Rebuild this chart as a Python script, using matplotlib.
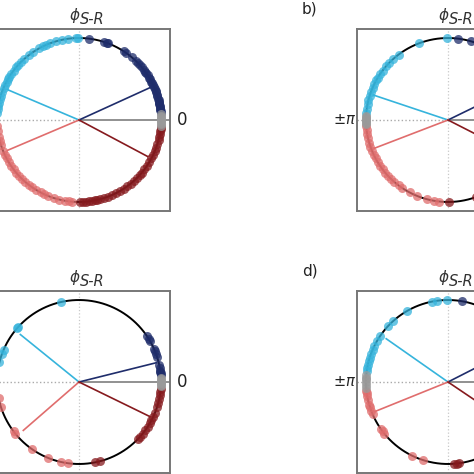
import numpy as np
import matplotlib.pyplot as plt

# colours per quadrant
C_NAVY = '#1f2d6b'
C_CYAN = '#36b4dc'
C_SALMON = '#e06d6d'
C_DRED = '#861a1e'
C_GRAY = '#9a9a9a'

# phase angles (deg), grouped by quadrant
a_navy = [83, 72, 70, 69, 57, 55, 50, 46, 44, 42, 40, 38, 36, 35, 33, 31, 30, 28, 27,
          25, 24, 22, 21, 20, 18, 17, 15, 14, 13, 12, 11, 10, 9, 8, 7, 6, 5]
a_cyan = [91, 92, 98, 102, 106, 111, 114, 116, 119, 124, 128, 132, 135, 138, 140, 143,
          146, 148, 150, 152, 155, 157, 160, 163, 165, 168, 170, 172, 175]
a_salmon = [-176, -172, -168, -165, -162, -158, -155, -152, -149, -146, -143, -140, -137,
            -134, -131, -128, -125, -122, -118, -115, -112, -108, -104, -100, -97, -95]
a_dred = [-89, -87, -85, -83, -81, -79, -77, -75, -72, -69, -66, -63, -60, -57, -54, -51,
          -48, -45, -42, -40, -37, -34, -31, -28, -25, -22, -20, -17, -14, -12, -10, -8, -6, -5]
a_gray = [-4, -3, -2, -1, 0, 1, 2, 3, 4]

b_navy = [83, 74, 66, 55, 40, 25]
b_cyan = [90.5, 111, 127, 132, 136, 139, 143, 146, 149, 151, 154, 157, 160, 163, 166, 169, 172, 175]
b_salmon = [-176, -173, -170, -167, -164, -161, -158, -155, -152, -149, -146, -143, -140,
            -137, -134, -131, -127, -124, -118, -112, -105, -100, -96]
b_dred = [-89, -70, -50, -30]
b_gray = [177, 178, 179, 180, -179, -178, -177]

c_navy = [34, 32, 30, 24, 22, 20, 18, 12, 10, 8, 7, 6, 5]
c_cyan = [103, 138, 139, 157, 160, 166]
c_salmon = [-97.5, -103, -112, -125, -141, -143, -162, -169]
c_dred = [-5, -7, -9, -12, -15, -18, -22, -25, -28, -30, -33, -36, -39, -42, -44, -75, -79]
c_gray = [-3, -2, -1, 0, 1, 2, 3]

d_navy = [80, 60, 40, 25, 10]
d_cyan = [91, 98, 101, 120, 132, 137, 146, 150, 154, 157, 160, 163, 165, 168, 170, 172]
d_salmon = [-174, -172, -170, -167, -164, -162, -159, -157, -145, -143, -141, -116, -108]
d_dred = [-86, -84, -82, -60, -30]
d_gray = [175, 177, 178, 180, -178, -176]

# mean direction lines: angle (deg), length (fraction of radius)
a_lines = [(24.5, 0.95), (157, 0.95), (-157, 0.95), (-28, 0.95)]
b_lines = [(26, 0.95), (161.5, 0.96), (-159, 0.96), (-27, 0.95)]
c_lines = [(14, 0.97), (141, 0.92), (-139, 0.90), (-26, 0.96)]
d_lines = [(27, 0.95), (145, 0.92), (-158, 0.97), (-34, 0.95)]

panels = [
    (a_navy, a_cyan, a_salmon, a_dred, a_gray, a_lines),
    (b_navy, b_cyan, b_salmon, b_dred, b_gray, b_lines),
    (c_navy, c_cyan, c_salmon, c_dred, c_gray, c_lines),
    (d_navy, d_cyan, d_salmon, d_dred, d_gray, d_lines),
]
# axes rects in pixels (left, top) on a 474 px canvas, 182 px square
rects = [(-12, 29), (357, 29), (-12, 291), (357, 291)]
side_lab = ['0', r'$\pm\pi$', '0', r'$\pm\pi$']
letters = [None, 'b)', None, 'd)']

W = 474.0
S = 182.0
lim = 1.11

fig = plt.figure(figsize=(4.74, 4.74), dpi=100)
for k, (pan, (px, py)) in enumerate(zip(panels, rects)):
    navy, cyan, salmon, dred, gray, lines = pan
    ax = fig.add_axes([px / W, (W - py - S) / W, S / W, S / W])
    ax.set_xlim(-lim, lim)
    ax.set_ylim(-lim, lim)
    ax.set_xticks([])
    ax.set_yticks([])
    for sp in ax.spines.values():
        sp.set_color('#777777')
        sp.set_linewidth(1.4)
    ax.plot([0, 0], [-lim, lim], color='#c8c8c8', lw=0.9, ls=':', zorder=1)
    ax.plot([-lim, 0], [0, 0], color='#aaaaaa', lw=1.0, ls=':', zorder=1)
    ax.plot([0, lim], [0, 0], color='#888888', lw=1.3, zorder=1)
    t = np.linspace(0, 2 * np.pi, 400)
    ax.plot(np.cos(t), np.sin(t), color='black', lw=1.4, zorder=2)
    for ang, col in zip([navy, cyan, salmon, dred, gray], [C_NAVY, C_CYAN, C_SALMON, C_DRED, C_GRAY]):
        r = np.deg2rad(ang)
        ax.scatter(np.cos(r), np.sin(r), s=42, color=col, alpha=0.75, linewidths=0, zorder=3)
    for (ang, ln), col in zip(lines, [C_NAVY, C_CYAN, C_SALMON, C_DRED]):
        r = np.deg2rad(ang)
        ax.plot([0, ln * np.cos(r)], [0, ln * np.sin(r)], color=col, lw=1.2, zorder=2)
    # title phi_{S-R}, placed relative to the box top
    cx = (px + S / 2) / W
    fig.text(cx - 0.008, (W - py + 9) / W, r'$\phi$', fontsize=11, ha='center', va='baseline', color='#333333')
    fig.text(cx + 0.002, (W - py + 5) / W, 'S-R', fontsize=10.5, style='italic',
             ha='left', va='baseline', color='#333333')
    if k in (0, 2):
        fig.text((px + S + 12) / W, (W - py - S / 2) / W, side_lab[k], fontsize=12,
                 ha='center', va='center', color='#222222')
    else:
        fig.text((px - 12) / W, (W - py - S / 2) / W, side_lab[k], fontsize=10.5,
                 ha='center', va='center', color='#222222')
    if letters[k]:
        fig.text((px - 55) / W, (W - py + 20) / W, letters[k], fontsize=11,
                 ha='left', va='center', color='#222222')

fig.savefig('out.png', dpi=100)
